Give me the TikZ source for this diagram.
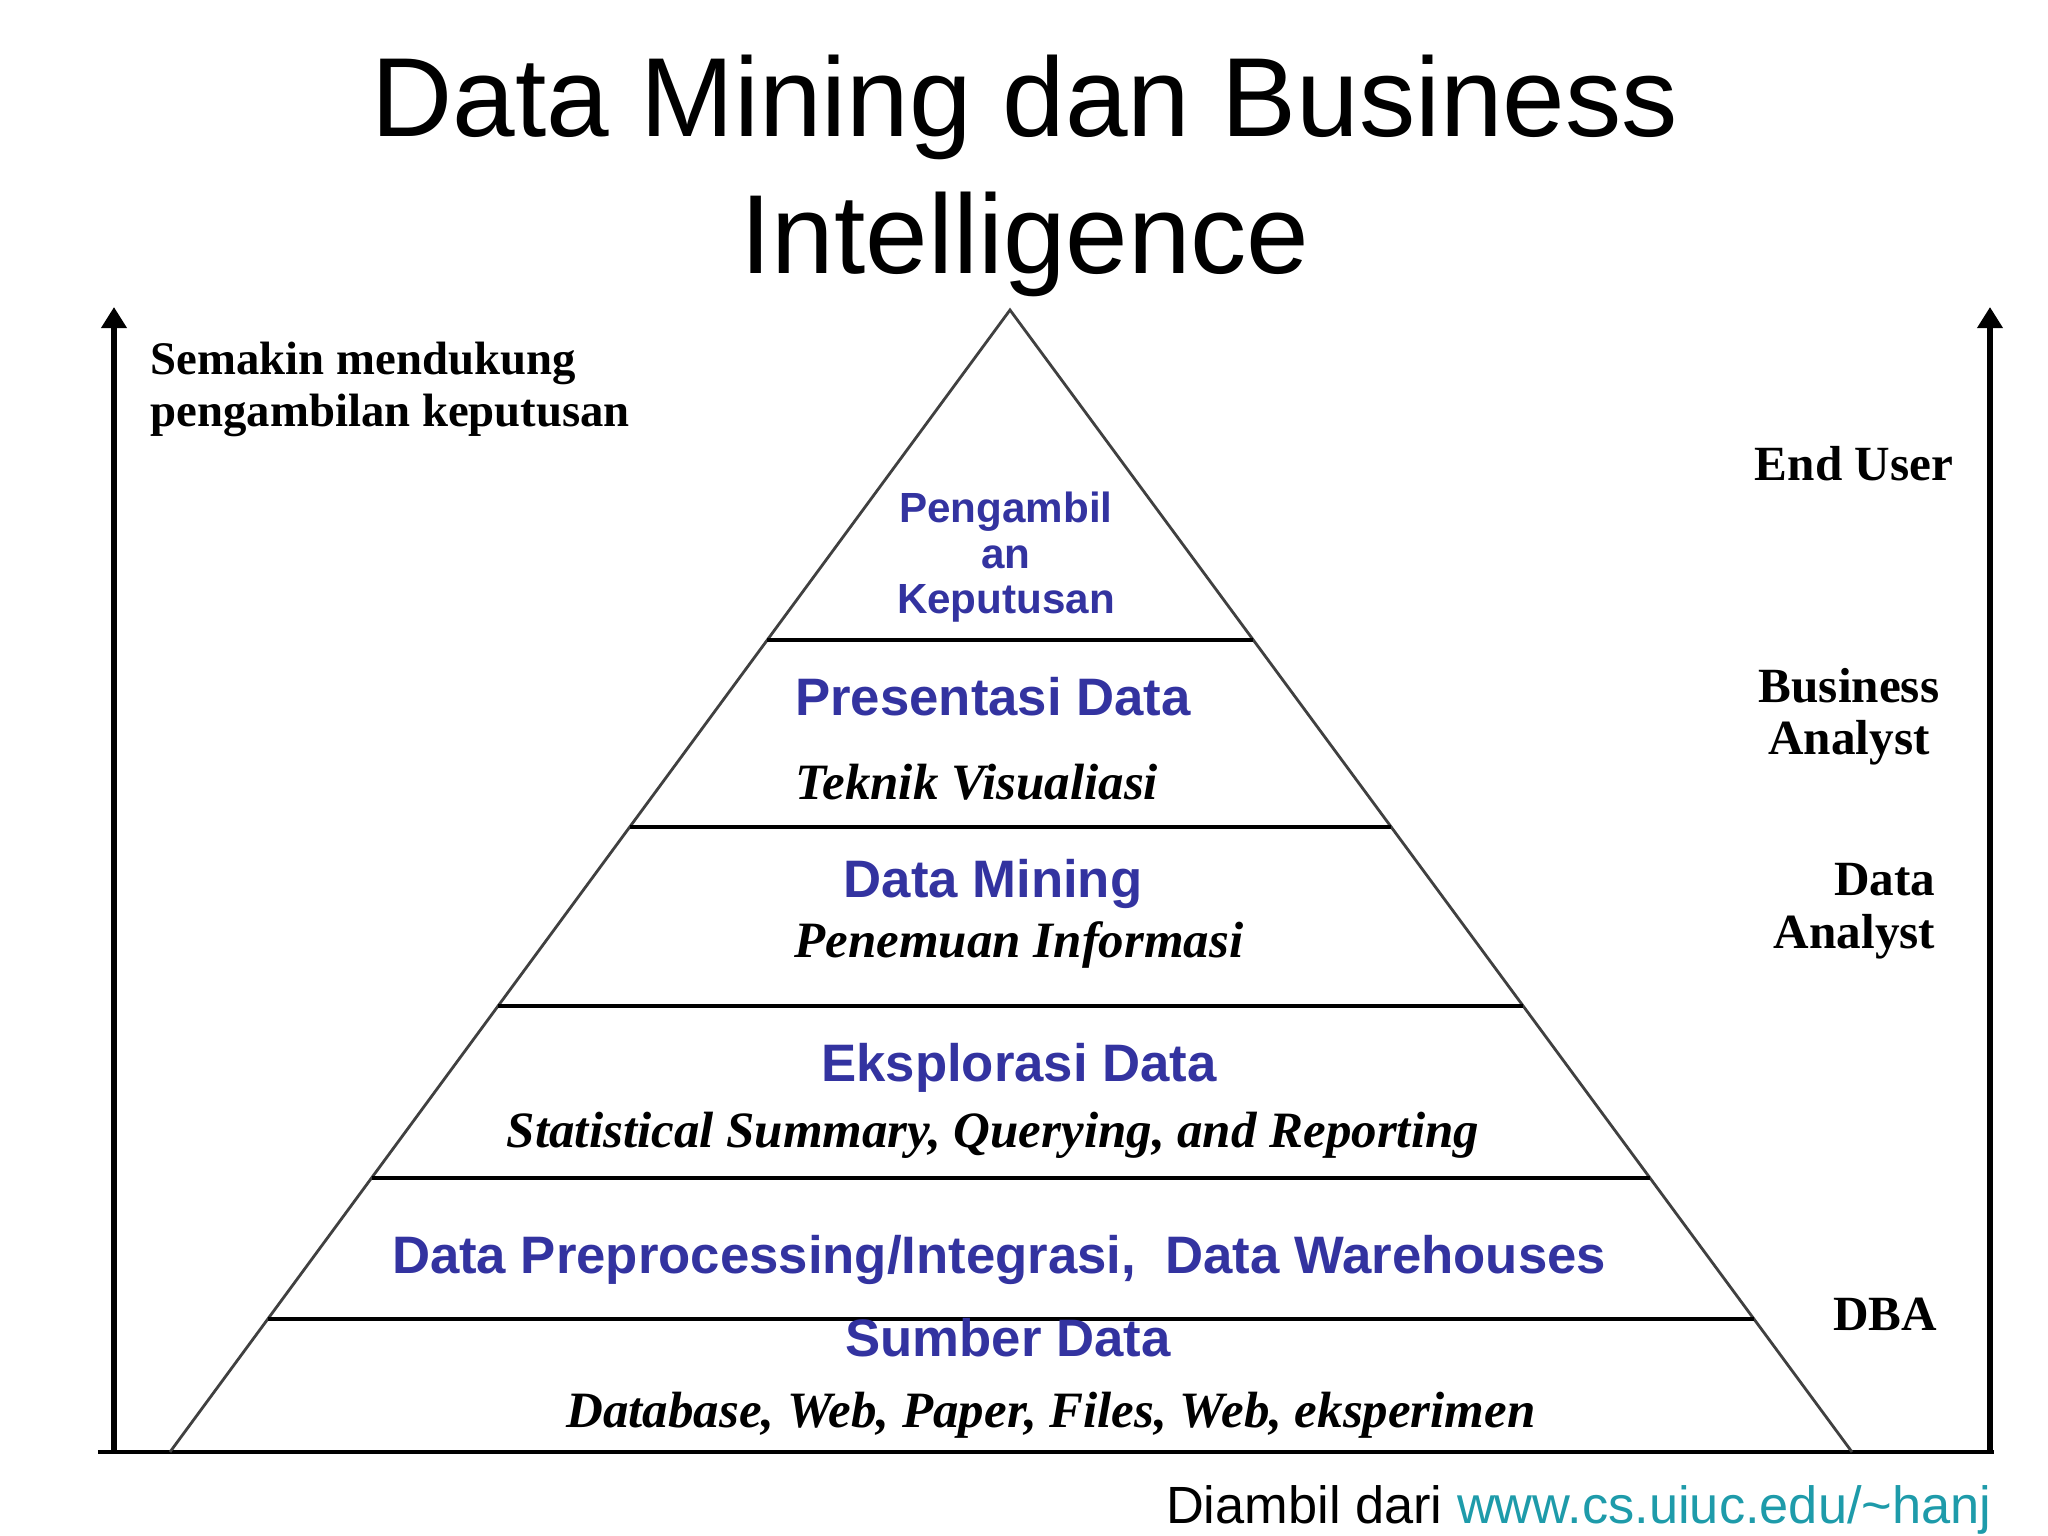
\documentclass[tikz,border=0pt]{standalone}
\usepackage{fontspec}
\setmainfont{Liberation Serif}
\newfontfamily\arialfont{Liberation Sans}
\usetikzlibrary{arrows.meta,calc}
\definecolor{layerblue}{RGB}{51,51,160}
\definecolor{linkteal}{RGB}{30,155,170}

\begin{document}
\begin{tikzpicture}[every node/.style={inner sep=0pt},
  layertitle/.style={anchor=base,text=layerblue,font=\arialfont\bfseries\fontsize{15}{18}\selectfont},
  layersub/.style={anchor=base,font=\bfseries\itshape\fontsize{14.5}{17}\selectfont},
  role/.style={anchor=base,align=center,font=\bfseries\fontsize{14}{14.8}\selectfont},
  axis/.style={line width=1.8pt,-{Triangle[width=7pt,length=6pt]}},
  edge/.style={line width=0.8pt,black!75},
  layer/.style={line width=1.1pt}]

\useasboundingbox (0,0) rectangle (20.48,-15.36);

% Title
\node[anchor=base,font=\arialfont\fontsize{32}{38}\selectfont] (title1) at (10.25,-1.37) {Data Mining dan Business};
\node[anchor=base,font=\arialfont\fontsize{32}{38}\selectfont] (title2) at (10.25,-2.74) {Intelligence};

% Axes and floor
\coordinate (floorL) at (0.98,-14.52);
\coordinate (floorR) at (19.94,-14.52);
\coordinate (lbase) at (1.14,-14.52);
\coordinate (ltop) at (1.14,-3.07);
\coordinate (rbase) at (19.90,-14.52);
\coordinate (rtop) at (19.90,-3.07);
\draw[axis] (lbase) -- (ltop);
\draw[axis] (rbase) -- (rtop);
\draw[line width=1.4pt] (floorL) -- (floorR);

% Pyramid
\coordinate (apex) at (10.10,-3.10);
\coordinate (bl) at (1.70,-14.52);
\coordinate (br) at (18.52,-14.52);
\draw[edge] (bl) -- (apex) -- (br);
\foreach \t in {0.289,0.4527,0.6095,0.760,0.8835}
  \draw[layer] ($(apex)!\t!(bl)$) -- ($(apex)!\t!(br)$);

% Left label (base = last line)
\node[role,align=left,anchor=base west,font=\bfseries\fontsize{13.3}{14.8}\selectfont] (support) at (1.50,-4.27) {Semakin mendukung\\pengambilan keputusan};

% Layer labels
\node[layertitle,align=center,font=\arialfont\bfseries\fontsize{12}{13}\selectfont] (decision) at (10.06,-6.14) {Pengambil\\an\\Keputusan};
\node[layertitle] (present) at (9.93,-7.16) {Presentasi Data};
\node[layersub] (visual) at (9.77,-8.00) {Teknik Visualiasi};
\node[layertitle] (mining) at (9.93,-8.98) {Data Mining};
\node[layersub] (inform) at (10.19,-9.57) {Penemuan Informasi};
\node[layertitle] (explore) at (10.19,-10.81) {Eksplorasi Data};
\node[layersub] (stats) at (9.93,-11.47) {Statistical Summary, Querying, and Reporting};
\node[layertitle] (prep) at (9.99,-12.73) {Data Preprocessing/Integrasi,\ \ Data Warehouses};
\node[layertitle] (source) at (10.08,-13.56) {Sumber Data};
\node[layersub] (files) at (10.51,-14.27) {Database, Web, Paper, Files, Web, eksperimen};

% Roles
\node[role] (enduser) at (18.54,-4.81) {End User};
\node[role] (business) at (18.49,-7.55) {Business\\Analyst};
\node[role,align=right,anchor=base east] (analyst) at (19.36,-9.48) {Data\\Analyst};
\node[role] (dba) at (18.85,-13.30) {DBA};

% Credit
\node[anchor=base east,font=\arialfont\fontsize{14.9}{16}\selectfont] (credit) at (19.92,-15.23) {Diambil dari \textcolor{linkteal}{www.cs.uiuc.edu/\textasciitilde hanj}};

\end{tikzpicture}
\end{document}
